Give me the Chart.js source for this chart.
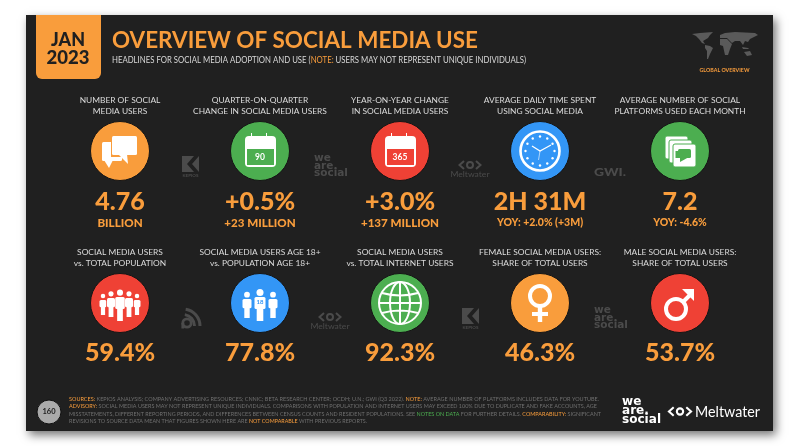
<!DOCTYPE html>
<html>
<head>
<meta charset="utf-8">
<title>Overview of social media use</title>
<script src="https://cdn.jsdelivr.net/npm/chart.js@4/dist/chart.umd.min.js"></script>
<style>
html, body { margin: 0; background: #fff; overflow: hidden; }
#card { position: absolute; left: 26px; top: 15px; width: 747px; height: 416px; background: #202020; box-shadow: 3px 4px 9px rgba(0,0,0,.55); }
#kpis { position: absolute; left: 0; top: 0; }
</style>
</head>
<body>
<div id="card"></div>
<canvas id="kpis" width="800" height="446"></canvas>
<script>
// headline numbers, left to right, top row then bottom row
const kpiColumns = [0, 1, 2, 3, 4, 0, 1, 2, 3, 4];
const kpiRows = [0, 0, 0, 0, 0, 1, 1, 1, 1, 1];
const kpiTitles = [
    ['NUMBER OF SOCIAL', 'MEDIA USERS'],
    ['QUARTER-ON-QUARTER', 'CHANGE IN SOCIAL MEDIA USERS'],
    ['YEAR-ON-YEAR CHANGE', 'IN SOCIAL MEDIA USERS'],
    ['AVERAGE DAILY TIME SPENT', 'USING SOCIAL MEDIA'],
    ['AVERAGE NUMBER OF SOCIAL', 'PLATFORMS USED EACH MONTH'],
    ['SOCIAL MEDIA USERS', 'vs. TOTAL POPULATION'],
    ['SOCIAL MEDIA USERS AGE 18+', 'vs. POPULATION AGE 18+'],
    ['SOCIAL MEDIA USERS', 'vs. TOTAL INTERNET USERS'],
    ['FEMALE SOCIAL MEDIA USERS:', 'SHARE OF TOTAL USERS'],
    ['MALE SOCIAL MEDIA USERS:', 'SHARE OF TOTAL USERS']
];
const kpiValues = ['4.76', '+0.5%', '+3.0%', '2H 31M', '7.2', '59.4%', '77.8%', '92.3%', '46.3%', '53.7%'];
const kpiSubs = ['BILLION', '+23 MILLION', '+137 MILLION', 'YOY: +2.0% (+3M)', 'YOY: -4.6%', '', '', '', '', ''];
const kpiIcons = ['chat', 'cal90', 'cal365', 'clock', 'cards', 'crowd', 'adults', 'globe', 'female', 'male'];
const topLogos = ['kepios', 'wearesocial', 'meltwater', 'gwi'];
const bottomLogos = ['datareportal', 'meltwater', 'kepios', 'wearesocial'];

const ORANGE = '#f99d3c', GREEN = '#4cae50', RED = '#ef4135', BLUE = '#3396f6';
const iconColours = { chat: ORANGE, cal90: GREEN, cal365: RED, clock: BLUE, cards: GREEN, crowd: RED, adults: BLUE, globe: GREEN, female: ORANGE, male: RED };
const FONT = 'Lato, "Open Sans", sans-serif';

// text squeezed or stretched to a given width, spans = [[text, colour], ...]
function spans(ctx, parts, x, y, width, font, align) {
    ctx.save();
    ctx.font = font;
    ctx.textBaseline = 'middle';
    ctx.textAlign = 'left';
    var total = 0;
    parts.forEach(p => total += ctx.measureText(p[0]).width);
    var k = width ? width / total : 1;
    var w = total * k;
    ctx.translate(align == 'center' ? x - w / 2 : x, y);
    ctx.scale(k, 1);
    var pos = 0;
    parts.forEach(p => {
        ctx.fillStyle = p[1];
        ctx.fillText(p[0], pos, 0);
        pos += ctx.measureText(p[0]).width;
    });
    ctx.restore();
}

function rr(ctx, x, y, w, h, r) {
    ctx.beginPath();
    ctx.roundRect(x, y, w, h, r);
}

function poly(ctx, pts) {
    ctx.beginPath();
    pts.forEach((p, i) => i ? ctx.lineTo(p[0], p[1]) : ctx.moveTo(p[0], p[1]));
    ctx.closePath();
    ctx.fill();
}

function bubble(ctx, x, y, w, h, tailX, tailTipX, tailTipY) {
    rr(ctx, x, y, w, h, 1.5);
    ctx.fill();
    poly(ctx, [[x + tailX, y + h - 1], [x + tailX + 9, y + h - 1], [tailTipX, tailTipY]]);
}

function calendar(ctx, text, colour) {
    ctx.fillStyle = '#fff';
    rr(ctx, -15, -15, 31, 31, 4);
    ctx.fill();
    ctx.fillStyle = colour;
    ctx.fillRect(-13, -2, 27, 16);
    ctx.fillStyle = '#fff';
    ctx.fillRect(-9, -18, 1, 6);
    ctx.fillRect(6, -18, 1, 6);
    spans(ctx, [[text, '#fff']], 0, 6, 0, 'bold 8.5px ' + FONT, 'center');
}

function person(ctx, x, y, w, h) {
    ctx.beginPath();
    ctx.arc(x, y - 3.2 - w * 0.12, w * 0.32, 0, Math.PI * 2);
    ctx.fill();
    rr(ctx, x - w / 2, y, w, h * 0.55, 1.5);
    ctx.fill();
    ctx.fillRect(x - w * 0.3, y + 2, w * 0.6, h);
}

const icons = {
    chat(ctx, c) {
        ctx.fillStyle = '#fff';
        bubble(ctx, -18, -9, 20, 19, 2, -11, 17);
        ctx.fillStyle = c;
        ctx.fillRect(-9, -16, 27, 22);
        poly(ctx, [[0, 4], [9, 14], [12, 4]]);
        ctx.fillStyle = '#fff';
        bubble(ctx, -8, -15, 25, 19, 6, 8, 13);
    },
    cal90(ctx, c) { calendar(ctx, '90', c); },
    cal365(ctx, c) { calendar(ctx, '365', c); },
    clock(ctx) {
        ctx.strokeStyle = '#fff';
        ctx.fillStyle = '#fff';
        ctx.lineWidth = 2.6;
        ctx.beginPath();
        ctx.arc(0, 0, 19.5, 0, Math.PI * 2);
        ctx.stroke();
        for (var i = 0; i < 12; i++) {
            ctx.beginPath();
            ctx.arc(Math.cos(i * Math.PI / 6) * 14.5, Math.sin(i * Math.PI / 6) * 14.5, 1.2, 0, Math.PI * 2);
            ctx.fill();
        }
        ctx.lineWidth = 1.3;
        ctx.beginPath();
        ctx.moveTo(-8, -5); ctx.lineTo(0, 0); ctx.lineTo(11, -6);
        ctx.stroke();
        ctx.lineWidth = 0.6;
        ctx.beginPath();
        ctx.moveTo(0, 0); ctx.lineTo(-1.5, 9);
        ctx.stroke();
    },
    cards(ctx, c) {
        [[-15, -15], [-11, -11], [-7, -7]].forEach(o => {
            ctx.fillStyle = '#fff';
            rr(ctx, o[0], o[1], 23, 23, 2);
            ctx.fill();
            ctx.strokeStyle = c;
            ctx.lineWidth = 1;
            ctx.stroke();
        });
        ctx.fillStyle = c;
        bubble(ctx, -2, -2, 13, 9, 2, 0, 11);
        ctx.fillRect(-4.5, 0, 4, 7);
    },
    crowd(ctx) {
        ctx.fillStyle = '#fff';
        person(ctx, -17, -3, 7, 13);
        person(ctx, 17, -3, 7, 13);
        ctx.fillStyle = RED;
        ctx.fillRect(-13.5, -8, 5, 25);
        ctx.fillRect(8.5, -8, 5, 25);
        ctx.fillStyle = '#fff';
        person(ctx, -9, -5, 8, 17);
        person(ctx, 9, -5, 8, 17);
        ctx.fillStyle = RED;
        ctx.fillRect(-5, -10, 10, 30);
        ctx.fillStyle = '#fff';
        person(ctx, 0, -6, 9.5, 22);
    },
    adults(ctx) {
        ctx.fillStyle = '#fff';
        person(ctx, -13, -4, 9, 17);
        person(ctx, 13, -4, 9, 17);
        ctx.fillStyle = BLUE;
        ctx.fillRect(-7, -10, 14, 32);
        ctx.fillStyle = '#fff';
        person(ctx, 0, -6, 11, 22);
        spans(ctx, [['18', BLUE]], 0, -1, 0, 'bold 6px ' + FONT, 'center');
    },
    globe(ctx) {
        ctx.strokeStyle = '#fff';
        ctx.lineWidth = 2;
        ctx.beginPath();
        ctx.arc(0, 0, 21, 0, Math.PI * 2);
        ctx.moveTo(0, -21); ctx.lineTo(0, 21);
        ctx.moveTo(-21, 0); ctx.lineTo(21, 0);
        ctx.moveTo(-18, -10); ctx.quadraticCurveTo(0, -5, 18, -10);
        ctx.moveTo(-18, 10); ctx.quadraticCurveTo(0, 5, 18, 10);
        ctx.stroke();
        ctx.beginPath();
        ctx.ellipse(0, 0, 10, 21, 0, 0, Math.PI * 2);
        ctx.stroke();
    },
    female(ctx) {
        ctx.strokeStyle = '#fff';
        ctx.lineWidth = 4;
        ctx.beginPath();
        ctx.arc(0, -7, 10, 0, Math.PI * 2);
        ctx.stroke();
        ctx.fillStyle = '#fff';
        ctx.fillRect(-2.2, 4, 4.4, 15);
        ctx.fillRect(-8, 9, 16, 4);
    },
    male(ctx) {
        ctx.strokeStyle = '#fff';
        ctx.lineWidth = 4;
        ctx.beginPath();
        ctx.arc(-4, 6, 10, 0, Math.PI * 2);
        ctx.moveTo(3, -1); ctx.lineTo(12, -10);
        ctx.stroke();
        ctx.fillStyle = '#fff';
        poly(ctx, [[2, -14], [14, -14], [14, -2]]);
    }
};

// the greyed source logos, drawn around their own centre
const logos = {
    kepios(ctx, grey) {
        ctx.fillStyle = grey;
        ctx.fillRect(-8, -13, 17, 16);
        ctx.fillStyle = '#202020';
        poly(ctx, [[-3, -5], [4, -13], [9, -13], [2, -5], [9, 3], [4, 3]]);
        spans(ctx, [['KEPIOS', grey]], 0.5, 7, 16, 'bold 4.5px ' + FONT, 'center');
    },
    wearesocial(ctx, grey, big) {
        var k = big || 1;
        ['we', 'are.', 'social'].forEach((t, i) => {
            spans(ctx, [[t, grey]], -16 * k, (-11 + i * 7.8) * k, 0, 'bold ' + 10.5 * k + 'px "DejaVu Sans", ' + FONT);
        });
    },
    meltwater(ctx, grey) {
        meltIcon(ctx, 0, -4, 1, grey);
        spans(ctx, [['Meltwater', grey]], 0, 5.5, 39, '7.5px ' + FONT, 'center');
    },
    gwi(ctx, grey) {
        spans(ctx, [['GWI.', grey]], 0, 3, 32, '900 12px ' + FONT, 'center');
    },
    datareportal(ctx, grey) {
        ctx.strokeStyle = grey;
        ctx.fillStyle = grey;
        ctx.lineWidth = 2.8;
        ctx.beginPath();
        ctx.arc(-3, 2, 4.2, 0, Math.PI * 2);
        ctx.stroke();
        ctx.fillRect(-8.6, 2, 2.8, 5.5);
        ctx.lineWidth = 3;
        ctx.beginPath();
        ctx.arc(-7, 5, 11.5, -Math.PI * 0.45, 0);
        ctx.stroke();
        ctx.beginPath();
        ctx.arc(-7, 5, 17, -Math.PI * 0.45, 0);
        ctx.stroke();
    }
};

function meltIcon(ctx, x, y, k, colour) {
    ctx.strokeStyle = colour;
    ctx.lineWidth = 2 * k;
    ctx.beginPath();
    ctx.moveTo(x - 6 * k, y - 4 * k); ctx.lineTo(x - 10.5 * k, y); ctx.lineTo(x - 6 * k, y + 4 * k);
    ctx.moveTo(x + 6 * k, y - 4 * k); ctx.lineTo(x + 10.5 * k, y); ctx.lineTo(x + 6 * k, y + 4 * k);
    ctx.stroke();
    ctx.beginPath();
    ctx.arc(x, y, 3 * k, 0, Math.PI * 2);
    ctx.stroke();
}

function header(ctx) {
    ctx.fillStyle = ORANGE;
    rr(ctx, 36, 15, 65, 64, [0, 0, 6, 6]);
    ctx.fill();
    spans(ctx, [['JAN', '#202020']], 68, 39.5, 34, '900 19px ' + FONT, 'center');
    spans(ctx, [['2023', '#202020']], 68, 57.5, 43, '900 19px ' + FONT, 'center');
    spans(ctx, [['OVERVIEW OF SOCIAL MEDIA USE', ORANGE]], 112, 40.5, 366, 'bold 23px ' + FONT);
    spans(ctx, [['HEADLINES FOR SOCIAL MEDIA ADOPTION AND USE (', '#d8d8d8'], ['NOTE:', ORANGE], [' USERS MAY NOT REPRESENT UNIQUE INDIVIDUALS)', '#d8d8d8']], 112, 60, 414, '8.7px ' + FONT);

    // rough world map
    ctx.fillStyle = '#5a5a5a';
    [
        [[692, 34], [700, 33], [713, 32], [710, 35], [708, 38], [703, 41], [705, 44], [702, 43], [699, 39], [696, 36]],
        [[705, 45], [710, 46], [713, 48], [710, 54], [708, 59], [707, 59], [707, 51], [705, 48]],
        [[720, 35], [725, 33], [735, 32], [755, 33], [758, 35], [750, 39], [748, 42], [745, 41], [743, 45], [740, 41], [735, 41], [732, 43], [727, 38], [720, 38]],
        [[720, 39], [727, 39], [732, 44], [730, 49], [728, 55], [725, 55], [723, 46], [720, 45]],
        [[742, 47], [748, 48], [749, 49], [743, 49]],
        [[744, 52], [750, 51], [752, 55], [747, 56]]
    ].forEach(p => poly(ctx, p));
    spans(ctx, [['GLOBAL OVERVIEW', ORANGE]], 724.5, 70, 50, 'bold 5px ' + FONT, 'center');
}

function footer(ctx) {
    ctx.fillStyle = '#aaa';
    ctx.strokeStyle = '#111';
    ctx.lineWidth = 1;
    ctx.beginPath();
    ctx.arc(49, 412, 12, 0, Math.PI * 2);
    ctx.fill();
    ctx.stroke();
    spans(ctx, [['160', '#202020']], 49, 412, 0, 'bold 7.5px ' + FONT, 'center');

    var grey = '#6f6f6f', f = '5.2px ' + FONT;
    spans(ctx, [['SOURCES: ', ORANGE], ['KEPIOS ANALYSIS; COMPANY ADVERTISING RESOURCES; CNNIC; BETA RESEARCH CENTER; OCDH; U.N.; GWI (Q3 2022). ', grey], ['NOTE: ', ORANGE], ['AVERAGE NUMBER OF PLATFORMS INCLUDES DATA FOR YOUTUBE.', grey]], 69, 399, 530, f);
    spans(ctx, [['ADVISORY: ', ORANGE], ['SOCIAL MEDIA USERS MAY NOT REPRESENT UNIQUE INDIVIDUALS. COMPARISONS WITH POPULATION AND INTERNET USERS MAY EXCEED 100% DUE TO DUPLICATE AND FAKE ACCOUNTS, AGE', grey]], 69, 406.5, 528, f);
    spans(ctx, [['MISSTATEMENTS, DIFFERENT REPORTING PERIODS, AND DIFFERENCES BETWEEN CENSUS COUNTS AND RESIDENT POPULATIONS. SEE ', grey], ['NOTES ON DATA', GREEN], [' FOR FURTHER DETAILS. ', grey], ['COMPARABILITY: ', ORANGE], ['SIGNIFICANT', grey]], 69, 414, 532, f);
    spans(ctx, [['REVISIONS TO SOURCE DATA MEAN THAT FIGURES SHOWN HERE ARE ', grey], ['NOT COMPARABLE', ORANGE], [' WITH PREVIOUS REPORTS.', grey]], 69, 421.5, 298, f);

    ctx.save();
    ctx.translate(640.4, 414.6);
    logos.wearesocial(ctx, '#fff', 1.15);
    ctx.restore();
    meltIcon(ctx, 680, 411.5, 1.05, '#fff');
    spans(ctx, [['Meltwater', '#fff']], 695, 412, 65, '15px ' + FONT);
}

const slidePlugin = {
    id: 'slide',
    afterDatasetsDraw(chart) {
        const ctx = chart.ctx, xs = chart.scales.x, ys = chart.scales.y;
        header(ctx);
        footer(ctx);

        kpiValues.forEach((value, i) => {
            const x = xs.getPixelForValue(kpiColumns[i]), y = ys.getPixelForValue(kpiRows[i]);
            kpiTitles[i].forEach((line, l) => {
                spans(ctx, [[line, '#dcdcdc']], x, y - 51 + l * 11, 0, '8.4px ' + FONT, 'center');
            });
            spans(ctx, [[value, ORANGE]], x, y + 51 - kpiRows[i], 0, '900 25px ' + FONT, 'center');
            if (kpiSubs[i]) {
                // the YOY lines are set smaller than the BILLION / MILLION ones
                var subSize = kpiSubs[i].startsWith('YOY') ? 10.5 : 11.6;
                spans(ctx, [[kpiSubs[i], ORANGE]], x, y + 72, 0, '900 ' + subSize + 'px ' + FONT, 'center');
            }
            ctx.save();
            ctx.translate(x, y);
            icons[kpiIcons[i]](ctx, iconColours[kpiIcons[i]]);
            ctx.restore();
        });

        [topLogos, bottomLogos].forEach((names, row) => {
            names.forEach((name, i) => {
                ctx.save();
                ctx.translate(xs.getPixelForValue(i + 0.5), ys.getPixelForValue(row) + 18);
                logos[name](ctx, '#4b4b4b');
                ctx.restore();
            });
        });
    }
};

new Chart(document.getElementById('kpis'), {
    type: 'scatter',
    data: {
        datasets: [{
            data: kpiColumns.map((c, i) => ({ x: c, y: kpiRows[i] })),
            pointRadius: 29.5,
            pointHoverRadius: 29.5,
            pointBackgroundColor: kpiIcons.map(n => iconColours[n]),
            pointBorderColor: '#151515',
            pointBorderWidth: 1
        }]
    },
    options: {
        responsive: false,
        animation: false,
        events: [],
        layout: { padding: 0, autoPadding: false },
        plugins: { legend: { display: false }, tooltip: { enabled: false } },
        scales: {
            // one unit is one column / one row of the slide
            x: { type: 'linear', display: false, min: -120 / 140, max: 680 / 140 },
            y: { type: 'linear', display: false, reverse: true, min: -151 / 152, max: 295 / 152 }
        }
    },
    plugins: [slidePlugin]
});
</script>
</body>
</html>
